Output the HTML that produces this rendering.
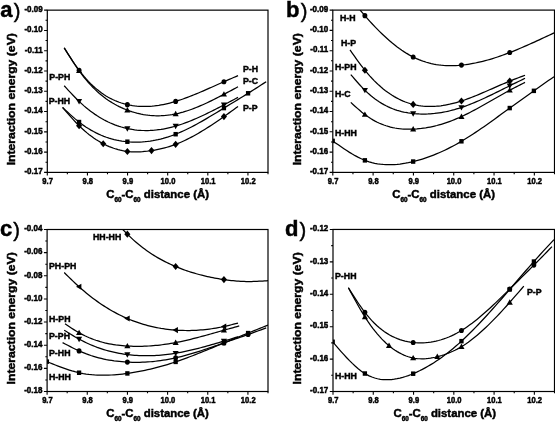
<!DOCTYPE html>
<html><head><meta charset="utf-8"><title>Interaction energy</title>
<style>
html,body{margin:0;padding:0;background:#fff;}
body{width:555px;height:422px;overflow:hidden;}
svg{display:block;font-family:"Liberation Sans",sans-serif;font-weight:bold;fill:#000;}
text{stroke:#000;stroke-width:0.45px;}
</style></head><body>
<svg width="555" height="422" viewBox="0 0 555 422">
<rect width="555" height="422" fill="#fff"/>
<g>
<clipPath id="cla"><rect x="47.30" y="10.15" width="220.70" height="162.25"/></clipPath>
<g clip-path="url(#cla)">
<path d="M64.20 47.89 L66.40 51.35 L68.60 54.79 L70.80 58.19 L73.00 61.52 L75.20 64.75 L77.40 67.88 L79.60 70.86 L81.80 73.70 L84.00 76.39 L86.20 78.93 L88.40 81.34 L90.60 83.60 L92.81 85.73 L95.01 87.73 L97.21 89.61 L99.41 91.36 L101.61 93.00 L103.81 94.52 L106.01 95.93 L108.21 97.23 L110.41 98.43 L112.61 99.53 L114.81 100.53 L117.01 101.45 L119.21 102.27 L121.41 103.01 L123.61 103.67 L125.81 104.26 L128.01 104.77 L130.21 105.21 L132.41 105.58 L134.61 105.89 L136.81 106.13 L139.01 106.30 L141.21 106.42 L143.41 106.48 L145.61 106.47 L147.81 106.41 L150.01 106.30 L152.21 106.13 L154.41 105.91 L156.61 105.63 L158.81 105.31 L161.01 104.94 L163.21 104.53 L165.41 104.07 L167.61 103.56 L169.81 103.02 L172.01 102.43 L174.21 101.81 L176.42 101.15 L178.62 100.46 L180.82 99.73 L183.02 98.97 L185.22 98.19 L187.42 97.37 L189.62 96.53 L191.82 95.67 L194.02 94.79 L196.22 93.89 L198.42 92.97 L200.62 92.04 L202.82 91.09 L205.02 90.13 L207.22 89.16 L209.42 88.19 L211.62 87.21 L213.82 86.23 L216.02 85.25 L218.22 84.26 L220.42 83.28 L222.62 82.31 L224.82 81.34 L227.02 80.38 L229.22 79.43 L231.42 78.48 L233.62 77.53 L235.82 76.59 L238.02 75.65" fill="none" stroke="#000" stroke-width="1.25"/>
<ellipse cx="79.09" cy="70.18" rx="2.45" ry="2.55"/>
<ellipse cx="127.37" cy="104.63" rx="2.45" ry="2.55"/>
<ellipse cx="175.66" cy="101.38" rx="2.45" ry="2.55"/>
<ellipse cx="223.94" cy="81.73" rx="2.45" ry="2.55"/>
<path d="M64.20 47.89 L66.40 51.43 L68.60 54.95 L70.80 58.43 L73.00 61.85 L75.20 65.18 L77.40 68.40 L79.60 71.50 L81.80 74.46 L84.00 77.27 L86.20 79.96 L88.40 82.51 L90.60 84.94 L92.81 87.24 L95.01 89.42 L97.21 91.48 L99.41 93.44 L101.61 95.28 L103.81 97.02 L106.01 98.66 L108.21 100.20 L110.41 101.65 L112.61 103.01 L114.81 104.29 L117.01 105.48 L119.21 106.59 L121.41 107.63 L123.61 108.60 L125.81 109.50 L128.01 110.33 L130.21 111.11 L132.41 111.83 L134.61 112.48 L136.81 113.08 L139.01 113.61 L141.21 114.09 L143.41 114.51 L145.61 114.87 L147.81 115.17 L150.01 115.41 L152.21 115.59 L154.41 115.71 L156.61 115.78 L158.81 115.79 L161.01 115.74 L163.21 115.63 L165.41 115.46 L167.61 115.24 L169.81 114.96 L172.01 114.63 L174.21 114.23 L176.42 113.79 L178.62 113.28 L180.82 112.72 L183.02 112.12 L185.22 111.46 L187.42 110.76 L189.62 110.01 L191.82 109.22 L194.02 108.39 L196.22 107.52 L198.42 106.62 L200.62 105.68 L202.82 104.71 L205.02 103.72 L207.22 102.70 L209.42 101.65 L211.62 100.58 L213.82 99.49 L216.02 98.39 L218.22 97.26 L220.42 96.13 L222.62 94.98 L224.82 93.83 L227.02 92.67 L229.22 91.50 L231.42 90.33 L233.62 89.15 L235.82 87.97 L238.02 86.79" fill="none" stroke="#000" stroke-width="1.25"/>
<polygon points="79.09,67.69 82.14,73.09 76.04,73.09"/>
<polygon points="127.37,107.00 130.42,112.40 124.32,112.40"/>
<polygon points="175.66,110.85 178.71,116.25 172.61,116.25"/>
<polygon points="223.94,91.19 226.99,96.59 220.89,96.59"/>
<path d="M64.20 85.78 L66.40 88.19 L68.60 90.58 L70.80 92.94 L73.00 95.27 L75.20 97.54 L77.40 99.75 L79.60 101.87 L81.80 103.91 L84.00 105.87 L86.20 107.73 L88.40 109.52 L90.60 111.21 L92.81 112.83 L95.01 114.37 L97.21 115.83 L99.41 117.20 L101.61 118.51 L103.81 119.74 L106.01 120.89 L108.21 121.97 L110.41 122.98 L112.61 123.92 L114.81 124.80 L117.01 125.60 L119.21 126.34 L121.41 127.02 L123.61 127.63 L125.81 128.18 L128.01 128.67 L130.21 129.10 L132.41 129.48 L134.61 129.79 L136.81 130.05 L139.01 130.26 L141.21 130.41 L143.41 130.50 L145.61 130.54 L147.81 130.53 L150.01 130.46 L152.21 130.34 L154.41 130.18 L156.61 129.96 L158.81 129.69 L161.01 129.38 L163.21 129.02 L165.41 128.61 L167.61 128.15 L169.81 127.65 L172.01 127.10 L174.21 126.51 L176.42 125.88 L178.62 125.21 L180.82 124.49 L183.02 123.74 L185.22 122.95 L187.42 122.12 L189.62 121.26 L191.82 120.37 L194.02 119.45 L196.22 118.50 L198.42 117.52 L200.62 116.52 L202.82 115.50 L205.02 114.45 L207.22 113.39 L209.42 112.30 L211.62 111.20 L213.82 110.09 L216.02 108.96 L218.22 107.83 L220.42 106.68 L222.62 105.52 L224.82 104.36 L227.02 103.20 L229.22 102.03 L231.42 100.86 L233.62 99.68 L235.82 98.51 L238.02 97.33" fill="none" stroke="#000" stroke-width="1.25"/>
<polygon points="79.09,104.48 82.14,99.08 76.04,99.08"/>
<polygon points="127.37,131.64 130.42,126.24 124.32,126.24"/>
<polygon points="175.66,129.20 178.71,123.80 172.61,123.80"/>
<polygon points="223.94,107.93 226.99,102.53 220.89,102.53"/>
<path d="M62.59 107.46 L65.17 109.87 L67.75 112.25 L70.32 114.60 L72.90 116.89 L75.48 119.11 L78.06 121.23 L80.63 123.24 L83.21 125.13 L85.79 126.91 L88.36 128.57 L90.94 130.12 L93.52 131.56 L96.10 132.89 L98.67 134.13 L101.25 135.26 L103.83 136.30 L106.40 137.24 L108.98 138.08 L111.56 138.84 L114.14 139.52 L116.71 140.10 L119.29 140.61 L121.87 141.04 L124.44 141.39 L127.02 141.67 L129.60 141.88 L132.18 142.02 L134.75 142.09 L137.33 142.09 L139.91 142.02 L142.48 141.89 L145.06 141.68 L147.64 141.41 L150.22 141.07 L152.79 140.67 L155.37 140.20 L157.95 139.66 L160.52 139.06 L163.10 138.39 L165.68 137.65 L168.26 136.86 L170.83 135.99 L173.41 135.07 L175.99 134.08 L178.56 133.03 L181.14 131.92 L183.72 130.75 L186.30 129.53 L188.87 128.27 L191.45 126.96 L194.03 125.60 L196.60 124.21 L199.18 122.79 L201.76 121.34 L204.34 119.85 L206.91 118.35 L209.49 116.82 L212.07 115.28 L214.64 113.73 L217.22 112.16 L219.80 110.60 L222.38 109.02 L224.95 107.45 L227.53 105.89 L230.11 104.32 L232.69 102.75 L235.26 101.18 L237.84 99.61 L240.42 98.03 L242.99 96.44 L245.57 94.85 L248.15 93.24 L250.73 91.62 L253.30 89.99 L255.88 88.35 L258.46 86.70 L261.03 85.04 L263.61 83.39 L266.19 81.73" fill="none" stroke="#000" stroke-width="1.25"/>
<rect x="76.94" y="119.80" width="4.30" height="4.50"/>
<rect x="125.22" y="139.46" width="4.30" height="4.50"/>
<rect x="173.51" y="131.96" width="4.30" height="4.50"/>
<rect x="221.79" y="105.82" width="4.30" height="4.50"/>
<rect x="245.93" y="91.03" width="4.30" height="4.50"/>
<path d="M62.59 107.46 L64.81 110.05 L67.03 112.61 L69.25 115.15 L71.47 117.65 L73.70 120.09 L75.92 122.46 L78.14 124.75 L80.36 126.94 L82.58 129.02 L84.80 131.00 L87.02 132.88 L89.24 134.66 L91.46 136.35 L93.68 137.94 L95.90 139.43 L98.12 140.84 L100.34 142.15 L102.56 143.38 L104.78 144.52 L107.00 145.58 L109.23 146.55 L111.45 147.44 L113.67 148.25 L115.89 148.97 L118.11 149.61 L120.33 150.17 L122.55 150.66 L124.77 151.06 L126.99 151.38 L129.21 151.63 L131.43 151.80 L133.65 151.91 L135.87 151.94 L138.09 151.92 L140.31 151.83 L142.54 151.69 L144.76 151.49 L146.98 151.25 L149.20 150.96 L151.42 150.64 L153.64 150.27 L155.86 149.87 L158.08 149.43 L160.30 148.94 L162.52 148.42 L164.74 147.85 L166.96 147.23 L169.18 146.56 L171.40 145.85 L173.62 145.09 L175.84 144.27 L178.07 143.40 L180.29 142.48 L182.51 141.51 L184.73 140.49 L186.95 139.42 L189.17 138.31 L191.39 137.16 L193.61 135.97 L195.83 134.74 L198.05 133.47 L200.27 132.16 L202.49 130.83 L204.71 129.46 L206.93 128.06 L209.15 126.64 L211.38 125.19 L213.60 123.71 L215.82 122.22 L218.04 120.70 L220.26 119.16 L222.48 117.61 L224.70 116.04 L226.92 114.46 L229.14 112.87 L231.36 111.28 L233.58 109.67 L235.80 108.06 L238.02 106.45" fill="none" stroke="#000" stroke-width="1.25"/>
<polygon points="79.09,122.15 82.14,125.70 79.09,129.25 76.04,125.70"/>
<polygon points="103.23,140.18 106.28,143.73 103.23,147.28 100.18,143.73"/>
<polygon points="127.37,147.88 130.42,151.43 127.37,154.98 124.32,151.43"/>
<polygon points="151.51,147.07 154.56,150.62 151.51,154.17 148.46,150.62"/>
<polygon points="175.66,140.79 178.71,144.34 175.66,147.89 172.61,144.34"/>
<polygon points="223.94,113.03 226.99,116.58 223.94,120.13 220.89,116.58"/>
</g>
<rect x="47.30" y="10.15" width="220.70" height="162.25" fill="none" stroke="#000" stroke-width="1.2"/>
<text transform="translate(47.60 184.00) scale(0.950 1.090)" font-size="8.00" text-anchor="middle">9.7</text>
<text transform="translate(87.73 184.00) scale(0.950 1.090)" font-size="8.00" text-anchor="middle">9.8</text>
<text transform="translate(127.85 184.00) scale(0.950 1.090)" font-size="8.00" text-anchor="middle">9.9</text>
<text transform="translate(167.98 184.00) scale(0.950 1.090)" font-size="8.00" text-anchor="middle">10.0</text>
<text transform="translate(208.11 184.00) scale(0.950 1.090)" font-size="8.00" text-anchor="middle">10.1</text>
<text transform="translate(248.24 184.00) scale(0.950 1.090)" font-size="8.00" text-anchor="middle">10.2</text>
<text transform="translate(42.60 11.95) scale(1.000 1.090)" font-size="8.00" text-anchor="end">-0.09</text>
<text transform="translate(42.60 32.23) scale(1.000 1.090)" font-size="8.00" text-anchor="end">-0.10</text>
<text transform="translate(42.60 52.51) scale(1.000 1.090)" font-size="8.00" text-anchor="end">-0.11</text>
<text transform="translate(42.60 72.79) scale(1.000 1.090)" font-size="8.00" text-anchor="end">-0.12</text>
<text transform="translate(42.60 93.08) scale(1.000 1.090)" font-size="8.00" text-anchor="end">-0.13</text>
<text transform="translate(42.60 113.36) scale(1.000 1.090)" font-size="8.00" text-anchor="end">-0.14</text>
<text transform="translate(42.60 133.64) scale(1.000 1.090)" font-size="8.00" text-anchor="end">-0.15</text>
<text transform="translate(42.60 153.92) scale(1.000 1.090)" font-size="8.00" text-anchor="end">-0.16</text>
<text transform="translate(42.60 174.20) scale(1.000 1.090)" font-size="8.00" text-anchor="end">-0.17</text>
<path d="M47.30 172.40 v3.20 M67.36 172.40 v1.80 M87.43 172.40 v3.20 M107.49 172.40 v1.80 M127.55 172.40 v3.20 M147.62 172.40 v1.80 M167.68 172.40 v3.20 M187.75 172.40 v1.80 M207.81 172.40 v3.20 M227.87 172.40 v1.80 M247.94 172.40 v3.20 M268.00 172.40 v1.80 M47.30 10.15 h-3.20 M47.30 20.29 h-1.80 M47.30 30.43 h-3.20 M47.30 40.57 h-1.80 M47.30 50.71 h-3.20 M47.30 60.85 h-1.80 M47.30 70.99 h-3.20 M47.30 81.13 h-1.80 M47.30 91.28 h-3.20 M47.30 101.42 h-1.80 M47.30 111.56 h-3.20 M47.30 121.70 h-1.80 M47.30 131.84 h-3.20 M47.30 141.98 h-1.80 M47.30 152.12 h-3.20 M47.30 162.26 h-1.80 M47.30 172.40 h-3.20" stroke="#000" stroke-width="1.1" fill="none"/>
<text transform="translate(157.65 198.00)" font-size="11.40" text-anchor="middle">C<tspan font-size="6.3" dy="3.5">60</tspan><tspan dy="-3.5">-C</tspan><tspan font-size="6.3" dy="3.5">60</tspan><tspan dy="-3.5"> distance (Å)</tspan></text>
<text transform="translate(14.90 99.25) rotate(-90) scale(1.090 1.000)" font-size="11.20" text-anchor="middle">Interaction energy (eV)</text>
<text transform="translate(0.30 17.20)" font-size="22.00">a<tspan font-weight="normal" font-size="20" dx="1.1" dy="0.4">)</tspan></text>
<text transform="translate(49.30 79.50) scale(1.000 0.930)" font-size="8.80">P-PH</text>
<text transform="translate(48.70 103.70) scale(1.000 0.930)" font-size="8.80">P-HH</text>
<text transform="translate(243.00 72.00) scale(1.000 0.930)" font-size="8.80">P-H</text>
<text transform="translate(243.00 84.00) scale(1.000 0.930)" font-size="8.80">P-C</text>
<text transform="translate(243.00 110.80) scale(1.000 0.930)" font-size="8.80">P-P</text>
</g>
<g>
<clipPath id="clb"><rect x="332.80" y="10.10" width="221.70" height="162.30"/></clipPath>
<g clip-path="url(#clb)">
<path d="M360.06 10.00 L362.52 12.90 L364.97 15.77 L367.43 18.58 L369.88 21.32 L372.34 24.00 L374.79 26.61 L377.25 29.15 L379.70 31.62 L382.16 34.01 L384.61 36.32 L387.06 38.56 L389.52 40.72 L391.97 42.80 L394.43 44.79 L396.88 46.69 L399.34 48.51 L401.79 50.24 L404.25 51.87 L406.70 53.41 L409.16 54.86 L411.61 56.20 L414.07 57.45 L416.52 58.60 L418.98 59.65 L421.43 60.61 L423.89 61.47 L426.34 62.25 L428.80 62.94 L431.25 63.54 L433.71 64.06 L436.16 64.51 L438.62 64.87 L441.07 65.17 L443.53 65.39 L445.98 65.55 L448.44 65.63 L450.89 65.66 L453.35 65.63 L455.80 65.53 L458.26 65.39 L460.71 65.18 L463.17 64.93 L465.62 64.64 L468.08 64.29 L470.53 63.90 L472.99 63.46 L475.44 62.99 L477.90 62.47 L480.35 61.91 L482.81 61.31 L485.26 60.67 L487.72 60.00 L490.17 59.29 L492.63 58.55 L495.08 57.77 L497.54 56.97 L499.99 56.13 L502.45 55.27 L504.90 54.38 L507.36 53.46 L509.81 52.52 L512.27 51.56 L514.72 50.58 L517.18 49.57 L519.63 48.54 L522.09 47.50 L524.54 46.44 L527.00 45.37 L529.45 44.28 L531.91 43.18 L534.36 42.06 L536.82 40.94 L539.27 39.81 L541.73 38.67 L544.18 37.52 L546.64 36.37 L549.09 35.21 L551.55 34.06 L554.00 32.90" fill="none" stroke="#000" stroke-width="1.25"/>
<ellipse cx="364.89" cy="15.67" rx="2.45" ry="2.55"/>
<ellipse cx="413.17" cy="57.01" rx="2.45" ry="2.55"/>
<ellipse cx="461.46" cy="65.11" rx="2.45" ry="2.55"/>
<ellipse cx="509.74" cy="52.55" rx="2.45" ry="2.55"/>
<path d="M350.00 49.92 L352.22 53.07 L354.43 56.20 L356.65 59.29 L358.86 62.33 L361.08 65.30 L363.29 68.18 L365.51 70.94 L367.73 73.59 L369.94 76.12 L372.16 78.54 L374.37 80.83 L376.59 83.02 L378.80 85.09 L381.02 87.05 L383.23 88.91 L385.45 90.66 L387.67 92.30 L389.88 93.85 L392.10 95.29 L394.31 96.64 L396.53 97.89 L398.74 99.05 L400.96 100.11 L403.17 101.09 L405.39 101.98 L407.61 102.78 L409.82 103.49 L412.04 104.13 L414.25 104.68 L416.47 105.16 L418.68 105.56 L420.90 105.88 L423.11 106.14 L425.33 106.32 L427.55 106.43 L429.76 106.48 L431.98 106.46 L434.19 106.38 L436.41 106.23 L438.62 106.03 L440.84 105.77 L443.05 105.46 L445.27 105.09 L447.49 104.67 L449.70 104.21 L451.92 103.69 L454.13 103.13 L456.35 102.53 L458.56 101.88 L460.78 101.20 L462.99 100.47 L465.21 99.72 L467.43 98.92 L469.64 98.10 L471.86 97.26 L474.07 96.38 L476.29 95.49 L478.50 94.57 L480.72 93.64 L482.93 92.70 L485.15 91.74 L487.37 90.78 L489.58 89.80 L491.80 88.83 L494.01 87.85 L496.23 86.88 L498.44 85.91 L500.66 84.94 L502.87 83.99 L505.09 83.05 L507.31 82.12 L509.52 81.21 L511.74 80.32 L513.95 79.45 L516.17 78.59 L518.38 77.74 L520.60 76.91 L522.81 76.07 L525.03 75.25" fill="none" stroke="#000" stroke-width="1.25"/>
<polygon points="364.89,66.63 367.94,70.18 364.89,73.73 361.84,70.18"/>
<polygon points="413.17,100.87 416.22,104.42 413.17,107.97 410.12,104.42"/>
<polygon points="461.46,97.43 464.51,100.98 461.46,104.53 458.41,100.98"/>
<polygon points="509.74,77.57 512.79,81.12 509.74,84.67 506.69,81.12"/>
<path d="M350.81 74.64 L353.01 77.21 L355.22 79.77 L357.42 82.28 L359.63 84.74 L361.83 87.11 L364.04 89.39 L366.24 91.55 L368.45 93.59 L370.65 95.50 L372.86 97.30 L375.07 98.98 L377.27 100.55 L379.48 102.02 L381.68 103.38 L383.89 104.64 L386.09 105.80 L388.30 106.87 L390.50 107.85 L392.71 108.75 L394.91 109.56 L397.12 110.29 L399.32 110.95 L401.53 111.53 L403.74 112.04 L405.94 112.49 L408.15 112.88 L410.35 113.20 L412.56 113.47 L414.76 113.69 L416.97 113.86 L419.17 113.98 L421.38 114.05 L423.58 114.07 L425.79 114.04 L427.99 113.97 L430.20 113.85 L432.40 113.68 L434.61 113.47 L436.82 113.21 L439.02 112.91 L441.23 112.56 L443.43 112.17 L445.64 111.74 L447.84 111.27 L450.05 110.75 L452.25 110.20 L454.46 109.61 L456.66 108.97 L458.87 108.30 L461.07 107.59 L463.28 106.84 L465.49 106.06 L467.69 105.24 L469.90 104.39 L472.10 103.51 L474.31 102.61 L476.51 101.68 L478.72 100.72 L480.92 99.74 L483.13 98.74 L485.33 97.72 L487.54 96.69 L489.74 95.64 L491.95 94.58 L494.15 93.50 L496.36 92.42 L498.57 91.33 L500.77 90.24 L502.98 89.14 L505.18 88.05 L507.39 86.95 L509.59 85.85 L511.80 84.76 L514.00 83.68 L516.21 82.60 L518.41 81.52 L520.62 80.44 L522.82 79.36 L525.03 78.28" fill="none" stroke="#000" stroke-width="1.25"/>
<polygon points="364.89,93.34 367.94,87.94 361.84,87.94"/>
<polygon points="413.17,116.64 416.22,111.24 410.12,111.24"/>
<polygon points="461.46,110.56 464.51,105.16 458.41,105.16"/>
<polygon points="509.74,88.88 512.79,83.48 506.69,83.48"/>
<path d="M350.81 102.40 L353.01 104.42 L355.22 106.42 L357.42 108.39 L359.63 110.30 L361.83 112.15 L364.04 113.90 L366.24 115.56 L368.45 117.10 L370.65 118.53 L372.86 119.85 L375.07 121.08 L377.27 122.20 L379.48 123.23 L381.68 124.17 L383.89 125.02 L386.09 125.78 L388.30 126.45 L390.50 127.05 L392.71 127.56 L394.91 128.00 L397.12 128.37 L399.32 128.67 L401.53 128.90 L403.74 129.07 L405.94 129.18 L408.15 129.23 L410.35 129.22 L412.56 129.17 L414.76 129.06 L416.97 128.91 L419.17 128.71 L421.38 128.47 L423.58 128.18 L425.79 127.85 L427.99 127.47 L430.20 127.04 L432.40 126.57 L434.61 126.06 L436.82 125.51 L439.02 124.91 L441.23 124.28 L443.43 123.60 L445.64 122.88 L447.84 122.12 L450.05 121.32 L452.25 120.48 L454.46 119.61 L456.66 118.69 L458.87 117.74 L461.07 116.76 L463.28 115.73 L465.49 114.67 L467.69 113.58 L469.90 112.46 L472.10 111.32 L474.31 110.15 L476.51 108.96 L478.72 107.75 L480.92 106.53 L483.13 105.29 L485.33 104.04 L487.54 102.78 L489.74 101.52 L491.95 100.25 L494.15 98.98 L496.36 97.72 L498.57 96.46 L500.77 95.21 L502.98 93.96 L505.18 92.73 L507.39 91.52 L509.59 90.32 L511.80 89.14 L514.00 87.98 L516.21 86.83 L518.41 85.70 L520.62 84.57 L522.82 83.45 L525.03 82.34" fill="none" stroke="#000" stroke-width="1.25"/>
<polygon points="364.89,111.45 367.94,116.85 361.84,116.85"/>
<polygon points="413.17,126.04 416.22,131.44 410.12,131.44"/>
<polygon points="461.46,113.48 464.51,118.88 458.41,118.88"/>
<polygon points="509.74,87.14 512.79,92.54 506.69,92.54"/>
<path d="M332.70 140.90 L335.50 142.89 L338.30 144.86 L341.10 146.81 L343.91 148.72 L346.71 150.57 L349.51 152.36 L352.31 154.06 L355.11 155.67 L357.91 157.17 L360.71 158.55 L363.51 159.79 L366.32 160.89 L369.12 161.83 L371.92 162.62 L374.72 163.28 L377.52 163.80 L380.32 164.20 L383.12 164.48 L385.92 164.64 L388.73 164.70 L391.53 164.66 L394.33 164.53 L397.13 164.31 L399.93 164.01 L402.73 163.62 L405.53 163.17 L408.33 162.64 L411.14 162.04 L413.94 161.38 L416.74 160.65 L419.54 159.87 L422.34 159.03 L425.14 158.13 L427.94 157.17 L430.74 156.15 L433.55 155.07 L436.35 153.94 L439.15 152.75 L441.95 151.50 L444.75 150.20 L447.55 148.84 L450.35 147.43 L453.15 145.96 L455.96 144.44 L458.76 142.87 L461.56 141.24 L464.36 139.56 L467.16 137.83 L469.96 136.06 L472.76 134.24 L475.56 132.39 L478.37 130.50 L481.17 128.58 L483.97 126.64 L486.77 124.67 L489.57 122.68 L492.37 120.67 L495.17 118.65 L497.97 116.62 L500.78 114.58 L503.58 112.55 L506.38 110.51 L509.18 108.48 L511.98 106.45 L514.78 104.44 L517.58 102.43 L520.38 100.42 L523.19 98.43 L525.99 96.44 L528.79 94.45 L531.59 92.47 L534.39 90.49 L537.19 88.51 L539.99 86.53 L542.79 84.56 L545.60 82.58 L548.40 80.61 L551.20 78.64 L554.00 76.66" fill="none" stroke="#000" stroke-width="1.25"/>
<rect x="330.55" y="138.65" width="4.30" height="4.50"/>
<rect x="362.74" y="158.10" width="4.30" height="4.50"/>
<rect x="411.02" y="159.31" width="4.30" height="4.50"/>
<rect x="459.31" y="139.05" width="4.30" height="4.50"/>
<rect x="507.59" y="105.82" width="4.30" height="4.50"/>
<rect x="531.73" y="88.60" width="4.30" height="4.50"/>
</g>
<rect x="332.80" y="10.10" width="221.70" height="162.30" fill="none" stroke="#000" stroke-width="1.2"/>
<text transform="translate(333.10 184.00) scale(0.950 1.090)" font-size="8.00" text-anchor="middle">9.7</text>
<text transform="translate(373.41 184.00) scale(0.950 1.090)" font-size="8.00" text-anchor="middle">9.8</text>
<text transform="translate(413.72 184.00) scale(0.950 1.090)" font-size="8.00" text-anchor="middle">9.9</text>
<text transform="translate(454.03 184.00) scale(0.950 1.090)" font-size="8.00" text-anchor="middle">10.0</text>
<text transform="translate(494.34 184.00) scale(0.950 1.090)" font-size="8.00" text-anchor="middle">10.1</text>
<text transform="translate(534.65 184.00) scale(0.950 1.090)" font-size="8.00" text-anchor="middle">10.2</text>
<text transform="translate(328.10 11.90) scale(1.000 1.090)" font-size="8.00" text-anchor="end">-0.09</text>
<text transform="translate(328.10 32.19) scale(1.000 1.090)" font-size="8.00" text-anchor="end">-0.10</text>
<text transform="translate(328.10 52.48) scale(1.000 1.090)" font-size="8.00" text-anchor="end">-0.11</text>
<text transform="translate(328.10 72.76) scale(1.000 1.090)" font-size="8.00" text-anchor="end">-0.12</text>
<text transform="translate(328.10 93.05) scale(1.000 1.090)" font-size="8.00" text-anchor="end">-0.13</text>
<text transform="translate(328.10 113.34) scale(1.000 1.090)" font-size="8.00" text-anchor="end">-0.14</text>
<text transform="translate(328.10 133.62) scale(1.000 1.090)" font-size="8.00" text-anchor="end">-0.15</text>
<text transform="translate(328.10 153.91) scale(1.000 1.090)" font-size="8.00" text-anchor="end">-0.16</text>
<text transform="translate(328.10 174.20) scale(1.000 1.090)" font-size="8.00" text-anchor="end">-0.17</text>
<path d="M332.80 172.40 v3.20 M352.95 172.40 v1.80 M373.11 172.40 v3.20 M393.26 172.40 v1.80 M413.42 172.40 v3.20 M433.57 172.40 v1.80 M453.73 172.40 v3.20 M473.88 172.40 v1.80 M494.04 172.40 v3.20 M514.19 172.40 v1.80 M534.35 172.40 v3.20 M554.50 172.40 v1.80 M332.80 10.10 h-3.20 M332.80 20.24 h-1.80 M332.80 30.39 h-3.20 M332.80 40.53 h-1.80 M332.80 50.68 h-3.20 M332.80 60.82 h-1.80 M332.80 70.96 h-3.20 M332.80 81.11 h-1.80 M332.80 91.25 h-3.20 M332.80 101.39 h-1.80 M332.80 111.54 h-3.20 M332.80 121.68 h-1.80 M332.80 131.82 h-3.20 M332.80 141.97 h-1.80 M332.80 152.11 h-3.20 M332.80 162.26 h-1.80 M332.80 172.40 h-3.20" stroke="#000" stroke-width="1.1" fill="none"/>
<text transform="translate(443.65 198.00)" font-size="11.40" text-anchor="middle">C<tspan font-size="6.3" dy="3.5">60</tspan><tspan dy="-3.5">-C</tspan><tspan font-size="6.3" dy="3.5">60</tspan><tspan dy="-3.5"> distance (Å)</tspan></text>
<text transform="translate(300.70 99.25) rotate(-90) scale(1.090 1.000)" font-size="11.20" text-anchor="middle">Interaction energy (eV)</text>
<text transform="translate(286.10 17.20)" font-size="22.00">b<tspan font-weight="normal" font-size="20" dx="1.1" dy="0.4">)</tspan></text>
<text transform="translate(340.00 20.70) scale(1.000 0.930)" font-size="8.80">H-H</text>
<text transform="translate(341.00 46.00) scale(1.000 0.930)" font-size="8.80">H-P</text>
<text transform="translate(335.00 70.00) scale(1.000 0.930)" font-size="8.80">H-PH</text>
<text transform="translate(335.00 97.00) scale(1.000 0.930)" font-size="8.80">H-C</text>
<text transform="translate(335.00 136.00) scale(1.000 0.930)" font-size="8.80">H-HH</text>
</g>
<g>
<clipPath id="clc"><rect x="47.10" y="229.50" width="220.90" height="162.00"/></clipPath>
<g clip-path="url(#clc)">
<path d="M122.54 229.20 L124.39 231.12 L126.23 233.02 L128.08 234.87 L129.92 236.67 L131.76 238.41 L133.61 240.09 L135.45 241.72 L137.29 243.30 L139.14 244.83 L140.98 246.31 L142.83 247.74 L144.67 249.12 L146.51 250.46 L148.36 251.75 L150.20 253.00 L152.04 254.21 L153.89 255.38 L155.73 256.51 L157.58 257.60 L159.42 258.65 L161.26 259.67 L163.11 260.65 L164.95 261.60 L166.79 262.52 L168.64 263.40 L170.48 264.26 L172.33 265.09 L174.17 265.90 L176.01 266.68 L177.86 267.43 L179.70 268.17 L181.54 268.87 L183.39 269.56 L185.23 270.22 L187.08 270.86 L188.92 271.48 L190.76 272.08 L192.61 272.66 L194.45 273.21 L196.29 273.75 L198.14 274.26 L199.98 274.76 L201.83 275.23 L203.67 275.69 L205.51 276.13 L207.36 276.55 L209.20 276.96 L211.04 277.34 L212.89 277.71 L214.73 278.06 L216.58 278.40 L218.42 278.72 L220.26 279.03 L222.11 279.32 L223.95 279.59 L225.79 279.85 L227.64 280.10 L229.48 280.33 L231.33 280.54 L233.17 280.73 L235.01 280.91 L236.86 281.07 L238.70 281.20 L240.54 281.32 L242.39 281.41 L244.23 281.48 L246.08 281.53 L247.92 281.55 L249.76 281.55 L251.61 281.52 L253.45 281.48 L255.29 281.41 L257.14 281.33 L258.98 281.24 L260.83 281.13 L262.67 281.01 L264.51 280.89 L266.36 280.76 L268.20 280.63" fill="none" stroke="#000" stroke-width="1.25"/>
<polygon points="127.37,230.62 130.42,234.17 127.37,237.72 124.32,234.17"/>
<polygon points="175.66,262.98 178.71,266.53 175.66,270.08 172.61,266.53"/>
<polygon points="223.94,276.04 226.99,279.59 223.94,283.14 220.89,279.59"/>
<path d="M64.20 272.54 L66.40 274.70 L68.60 276.85 L70.80 278.98 L73.00 281.10 L75.20 283.18 L77.40 285.22 L79.60 287.22 L81.80 289.16 L84.00 291.06 L86.20 292.90 L88.40 294.69 L90.60 296.44 L92.81 298.13 L95.01 299.78 L97.21 301.37 L99.41 302.92 L101.61 304.42 L103.81 305.87 L106.01 307.27 L108.21 308.63 L110.41 309.94 L112.61 311.20 L114.81 312.42 L117.01 313.60 L119.21 314.73 L121.41 315.81 L123.61 316.86 L125.81 317.85 L128.01 318.81 L130.21 319.72 L132.41 320.59 L134.61 321.42 L136.81 322.21 L139.01 322.96 L141.21 323.67 L143.41 324.34 L145.61 324.97 L147.81 325.57 L150.01 326.12 L152.21 326.64 L154.41 327.13 L156.61 327.58 L158.81 327.99 L161.01 328.38 L163.21 328.72 L165.41 329.04 L167.61 329.32 L169.81 329.57 L172.01 329.79 L174.21 329.99 L176.42 330.15 L178.62 330.28 L180.82 330.38 L183.02 330.45 L185.22 330.50 L187.42 330.51 L189.62 330.50 L191.82 330.45 L194.02 330.38 L196.22 330.28 L198.42 330.15 L200.62 329.99 L202.82 329.80 L205.02 329.58 L207.22 329.33 L209.42 329.06 L211.62 328.75 L213.82 328.42 L216.02 328.05 L218.22 327.66 L220.42 327.24 L222.62 326.79 L224.82 326.32 L227.02 325.81 L229.22 325.29 L231.42 324.74 L233.62 324.18 L235.82 323.62 L238.02 323.04" fill="none" stroke="#000" stroke-width="1.25"/>
<polygon points="75.99,286.75 81.39,283.70 81.39,289.80"/>
<polygon points="124.27,318.54 129.67,315.49 129.67,321.59"/>
<polygon points="172.56,330.09 177.96,327.04 177.96,333.14"/>
<polygon points="220.84,326.51 226.24,323.46 226.24,329.56"/>
<path d="M65.01 323.85 L67.21 325.32 L69.42 326.78 L71.62 328.21 L73.83 329.61 L76.03 330.97 L78.24 332.27 L80.44 333.50 L82.65 334.66 L84.85 335.75 L87.06 336.78 L89.27 337.74 L91.47 338.63 L93.68 339.47 L95.88 340.25 L98.09 340.96 L100.29 341.63 L102.50 342.24 L104.70 342.80 L106.91 343.31 L109.11 343.77 L111.32 344.19 L113.52 344.56 L115.73 344.90 L117.94 345.19 L120.14 345.44 L122.35 345.66 L124.55 345.85 L126.76 346.00 L128.96 346.13 L131.17 346.23 L133.37 346.29 L135.58 346.33 L137.78 346.35 L139.99 346.33 L142.19 346.29 L144.40 346.22 L146.60 346.12 L148.81 346.00 L151.02 345.85 L153.22 345.68 L155.43 345.48 L157.63 345.26 L159.84 345.02 L162.04 344.75 L164.25 344.45 L166.45 344.14 L168.66 343.80 L170.86 343.44 L173.07 343.05 L175.27 342.65 L177.48 342.22 L179.69 341.77 L181.89 341.31 L184.10 340.82 L186.30 340.32 L188.51 339.81 L190.71 339.27 L192.92 338.73 L195.12 338.17 L197.33 337.60 L199.53 337.02 L201.74 336.43 L203.94 335.83 L206.15 335.23 L208.35 334.61 L210.56 334.00 L212.77 333.38 L214.97 332.75 L217.18 332.13 L219.38 331.50 L221.59 330.88 L223.79 330.25 L226.00 329.63 L228.20 329.01 L230.41 328.39 L232.61 327.78 L234.82 327.16 L237.02 326.55 L239.23 325.93" fill="none" stroke="#000" stroke-width="1.25"/>
<polygon points="79.09,329.65 82.14,335.05 76.04,335.05"/>
<polygon points="127.37,342.94 130.42,348.34 124.32,348.34"/>
<polygon points="175.66,339.48 178.71,344.88 172.61,344.88"/>
<polygon points="223.94,327.11 226.99,332.51 220.89,332.51"/>
<path d="M64.20 330.21 L66.40 331.58 L68.60 332.94 L70.80 334.29 L73.00 335.62 L75.20 336.92 L77.40 338.17 L79.60 339.39 L81.80 340.55 L84.00 341.67 L86.20 342.73 L88.40 343.75 L90.60 344.72 L92.81 345.64 L95.01 346.51 L97.21 347.35 L99.41 348.13 L101.61 348.88 L103.81 349.58 L106.01 350.23 L108.21 350.85 L110.41 351.43 L112.61 351.96 L114.81 352.46 L117.01 352.92 L119.21 353.34 L121.41 353.73 L123.61 354.08 L125.81 354.39 L128.01 354.67 L130.21 354.92 L132.41 355.13 L134.61 355.31 L136.81 355.46 L139.01 355.58 L141.21 355.66 L143.41 355.71 L145.61 355.74 L147.81 355.73 L150.01 355.69 L152.21 355.63 L154.41 355.53 L156.61 355.41 L158.81 355.26 L161.01 355.08 L163.21 354.87 L165.41 354.64 L167.61 354.38 L169.81 354.09 L172.01 353.78 L174.21 353.44 L176.42 353.08 L178.62 352.70 L180.82 352.29 L183.02 351.86 L185.22 351.41 L187.42 350.94 L189.62 350.45 L191.82 349.94 L194.02 349.41 L196.22 348.87 L198.42 348.31 L200.62 347.74 L202.82 347.16 L205.02 346.56 L207.22 345.95 L209.42 345.34 L211.62 344.71 L213.82 344.07 L216.02 343.43 L218.22 342.78 L220.42 342.13 L222.62 341.47 L224.82 340.81 L227.02 340.14 L229.22 339.48 L231.42 338.81 L233.62 338.14 L235.82 337.47 L238.02 336.80" fill="none" stroke="#000" stroke-width="1.25"/>
<polygon points="79.09,342.21 82.14,336.81 76.04,336.81"/>
<polygon points="127.37,357.70 130.42,352.30 124.32,352.30"/>
<polygon points="175.66,356.31 178.71,350.91 172.61,350.91"/>
<polygon points="223.94,344.17 226.99,338.77 220.89,338.77"/>
<path d="M62.59 342.58 L65.17 343.95 L67.75 345.31 L70.32 346.65 L72.90 347.95 L75.48 349.22 L78.06 350.43 L80.63 351.57 L83.21 352.65 L85.79 353.67 L88.36 354.61 L90.94 355.50 L93.52 356.32 L96.10 357.08 L98.67 357.78 L101.25 358.43 L103.83 359.02 L106.40 359.56 L108.98 360.04 L111.56 360.47 L114.14 360.86 L116.71 361.19 L119.29 361.48 L121.87 361.73 L124.44 361.93 L127.02 362.09 L129.60 362.21 L132.18 362.29 L134.75 362.33 L137.33 362.33 L139.91 362.29 L142.48 362.21 L145.06 362.09 L147.64 361.94 L150.22 361.75 L152.79 361.52 L155.37 361.25 L157.95 360.94 L160.52 360.60 L163.10 360.21 L165.68 359.80 L168.26 359.34 L170.83 358.85 L173.41 358.32 L175.99 357.76 L178.56 357.16 L181.14 356.52 L183.72 355.86 L186.30 355.16 L188.87 354.44 L191.45 353.69 L194.03 352.92 L196.60 352.13 L199.18 351.32 L201.76 350.49 L204.34 349.64 L206.91 348.78 L209.49 347.91 L212.07 347.04 L214.64 346.15 L217.22 345.26 L219.80 344.36 L222.38 343.47 L224.95 342.57 L227.53 341.68 L230.11 340.78 L232.69 339.89 L235.26 338.99 L237.84 338.10 L240.42 337.20 L242.99 336.29 L245.57 335.38 L248.15 334.46 L250.73 333.54 L253.30 332.61 L255.88 331.67 L258.46 330.73 L261.03 329.79 L263.61 328.84 L266.19 327.90" fill="none" stroke="#000" stroke-width="1.25"/>
<ellipse cx="79.09" cy="350.90" rx="2.45" ry="2.55"/>
<ellipse cx="127.37" cy="362.11" rx="2.45" ry="2.55"/>
<ellipse cx="175.66" cy="357.83" rx="2.45" ry="2.55"/>
<ellipse cx="223.94" cy="342.92" rx="2.45" ry="2.55"/>
<ellipse cx="248.08" cy="334.49" rx="2.45" ry="2.55"/>
<path d="M46.90 361.64 L49.70 362.78 L52.50 363.91 L55.30 365.02 L58.11 366.11 L60.91 367.16 L63.71 368.18 L66.51 369.15 L69.31 370.07 L72.11 370.93 L74.91 371.71 L77.71 372.42 L80.52 373.05 L83.32 373.58 L86.12 374.04 L88.92 374.41 L91.72 374.71 L94.52 374.94 L97.32 375.10 L100.12 375.19 L102.93 375.22 L105.73 375.20 L108.53 375.13 L111.33 375.00 L114.13 374.83 L116.93 374.61 L119.73 374.35 L122.53 374.04 L125.34 373.70 L128.14 373.33 L130.94 372.91 L133.74 372.47 L136.54 371.99 L139.34 371.47 L142.14 370.93 L144.94 370.35 L147.75 369.73 L150.55 369.09 L153.35 368.41 L156.15 367.70 L158.95 366.95 L161.75 366.18 L164.55 365.37 L167.35 364.54 L170.16 363.67 L172.96 362.77 L175.76 361.84 L178.56 360.88 L181.36 359.90 L184.16 358.89 L186.96 357.85 L189.76 356.79 L192.57 355.72 L195.37 354.62 L198.17 353.51 L200.97 352.39 L203.77 351.25 L206.57 350.11 L209.37 348.96 L212.17 347.80 L214.98 346.64 L217.78 345.47 L220.58 344.31 L223.38 343.15 L226.18 342.00 L228.98 340.85 L231.78 339.70 L234.58 338.56 L237.39 337.42 L240.19 336.29 L242.99 335.15 L245.79 334.02 L248.59 332.89 L251.39 331.76 L254.19 330.64 L256.99 329.51 L259.80 328.38 L262.60 327.26 L265.40 326.13 L268.20 325.01" fill="none" stroke="#000" stroke-width="1.25"/>
<rect x="44.75" y="359.39" width="4.30" height="4.50"/>
<rect x="76.94" y="370.49" width="4.30" height="4.50"/>
<rect x="125.22" y="371.18" width="4.30" height="4.50"/>
<rect x="173.51" y="359.63" width="4.30" height="4.50"/>
<rect x="221.79" y="340.67" width="4.30" height="4.50"/>
<rect x="245.93" y="330.85" width="4.30" height="4.50"/>
</g>
<rect x="47.10" y="229.50" width="220.90" height="162.00" fill="none" stroke="#000" stroke-width="1.2"/>
<text transform="translate(47.40 403.10) scale(0.950 1.090)" font-size="8.00" text-anchor="middle">9.7</text>
<text transform="translate(87.56 403.10) scale(0.950 1.090)" font-size="8.00" text-anchor="middle">9.8</text>
<text transform="translate(127.73 403.10) scale(0.950 1.090)" font-size="8.00" text-anchor="middle">9.9</text>
<text transform="translate(167.89 403.10) scale(0.950 1.090)" font-size="8.00" text-anchor="middle">10.0</text>
<text transform="translate(208.05 403.10) scale(0.950 1.090)" font-size="8.00" text-anchor="middle">10.1</text>
<text transform="translate(248.22 403.10) scale(0.950 1.090)" font-size="8.00" text-anchor="middle">10.2</text>
<text transform="translate(42.40 231.30) scale(1.000 1.090)" font-size="8.00" text-anchor="end">-0.04</text>
<text transform="translate(42.40 254.44) scale(1.000 1.090)" font-size="8.00" text-anchor="end">-0.06</text>
<text transform="translate(42.40 277.59) scale(1.000 1.090)" font-size="8.00" text-anchor="end">-0.08</text>
<text transform="translate(42.40 300.73) scale(1.000 1.090)" font-size="8.00" text-anchor="end">-0.10</text>
<text transform="translate(42.40 323.87) scale(1.000 1.090)" font-size="8.00" text-anchor="end">-0.12</text>
<text transform="translate(42.40 347.01) scale(1.000 1.090)" font-size="8.00" text-anchor="end">-0.14</text>
<text transform="translate(42.40 370.16) scale(1.000 1.090)" font-size="8.00" text-anchor="end">-0.16</text>
<text transform="translate(42.40 393.30) scale(1.000 1.090)" font-size="8.00" text-anchor="end">-0.18</text>
<path d="M47.10 391.50 v3.20 M67.18 391.50 v1.80 M87.26 391.50 v3.20 M107.35 391.50 v1.80 M127.43 391.50 v3.20 M147.51 391.50 v1.80 M167.59 391.50 v3.20 M187.67 391.50 v1.80 M207.75 391.50 v3.20 M227.84 391.50 v1.80 M247.92 391.50 v3.20 M268.00 391.50 v1.80 M47.10 229.50 h-3.20 M47.10 241.07 h-1.80 M47.10 252.64 h-3.20 M47.10 264.21 h-1.80 M47.10 275.79 h-3.20 M47.10 287.36 h-1.80 M47.10 298.93 h-3.20 M47.10 310.50 h-1.80 M47.10 322.07 h-3.20 M47.10 333.64 h-1.80 M47.10 345.21 h-3.20 M47.10 356.79 h-1.80 M47.10 368.36 h-3.20 M47.10 379.93 h-1.80 M47.10 391.50 h-3.20" stroke="#000" stroke-width="1.1" fill="none"/>
<text transform="translate(157.55 417.10)" font-size="11.40" text-anchor="middle">C<tspan font-size="6.3" dy="3.5">60</tspan><tspan dy="-3.5">-C</tspan><tspan font-size="6.3" dy="3.5">60</tspan><tspan dy="-3.5"> distance (Å)</tspan></text>
<text transform="translate(14.90 318.30) rotate(-90) scale(1.090 1.000)" font-size="11.20" text-anchor="middle">Interaction energy (eV)</text>
<text transform="translate(-0.10 236.40)" font-size="22.00">c<tspan font-weight="normal" font-size="20" dx="1.1" dy="0.4">)</tspan></text>
<text transform="translate(93.00 240.00) scale(1.000 0.930)" font-size="8.80">HH-HH</text>
<text transform="translate(49.00 268.50) scale(1.000 0.930)" font-size="8.80">PH-PH</text>
<text transform="translate(49.00 321.50) scale(1.000 0.930)" font-size="8.80">H-PH</text>
<text transform="translate(49.00 339.00) scale(1.000 0.930)" font-size="8.80">P-PH</text>
<text transform="translate(49.00 356.00) scale(1.000 0.930)" font-size="8.80">P-HH</text>
<text transform="translate(49.00 380.30) scale(1.000 0.930)" font-size="8.80">H-HH</text>
</g>
<g>
<clipPath id="cld"><rect x="333.00" y="229.45" width="221.50" height="162.05"/></clipPath>
<g clip-path="url(#cld)">
<path d="M348.39 287.77 L350.97 291.85 L353.55 295.90 L356.12 299.87 L358.70 303.74 L361.28 307.46 L363.86 311.00 L366.43 314.33 L369.01 317.43 L371.59 320.31 L374.16 322.98 L376.74 325.45 L379.32 327.71 L381.90 329.79 L384.47 331.68 L387.05 333.39 L389.63 334.94 L392.20 336.32 L394.78 337.55 L397.36 338.64 L399.94 339.58 L402.51 340.38 L405.09 341.06 L407.67 341.63 L410.24 342.08 L412.82 342.42 L415.40 342.67 L417.98 342.82 L420.55 342.87 L423.13 342.82 L425.71 342.68 L428.28 342.44 L430.86 342.10 L433.44 341.66 L436.02 341.13 L438.59 340.49 L441.17 339.76 L443.75 338.92 L446.32 337.99 L448.90 336.96 L451.48 335.82 L454.06 334.59 L456.63 333.26 L459.21 331.82 L461.79 330.28 L464.36 328.65 L466.94 326.91 L469.52 325.09 L472.10 323.19 L474.67 321.20 L477.25 319.14 L479.83 317.01 L482.40 314.82 L484.98 312.57 L487.56 310.27 L490.14 307.92 L492.71 305.53 L495.29 303.10 L497.87 300.64 L500.44 298.16 L503.02 295.65 L505.60 293.13 L508.18 290.60 L510.75 288.07 L513.33 285.53 L515.91 283.00 L518.49 280.45 L521.06 277.91 L523.64 275.35 L526.22 272.79 L528.79 270.22 L531.37 267.64 L533.95 265.05 L536.53 262.45 L539.10 259.84 L541.68 257.22 L544.26 254.59 L546.83 251.95 L549.41 249.31 L551.99 246.67" fill="none" stroke="#000" stroke-width="1.25"/>
<ellipse cx="364.89" cy="312.37" rx="2.45" ry="2.55"/>
<ellipse cx="413.17" cy="342.46" rx="2.45" ry="2.55"/>
<ellipse cx="461.46" cy="330.49" rx="2.45" ry="2.55"/>
<ellipse cx="509.74" cy="289.07" rx="2.45" ry="2.55"/>
<ellipse cx="533.88" cy="265.12" rx="2.45" ry="2.55"/>
<path d="M348.39 287.77 L350.61 291.90 L352.83 296.00 L355.05 300.05 L357.27 304.04 L359.50 307.94 L361.72 311.73 L363.94 315.38 L366.16 318.87 L368.38 322.20 L370.60 325.36 L372.82 328.36 L375.04 331.21 L377.26 333.90 L379.48 336.44 L381.70 338.83 L383.92 341.07 L386.14 343.17 L388.36 345.13 L390.58 346.96 L392.80 348.64 L395.03 350.20 L397.25 351.62 L399.47 352.90 L401.69 354.06 L403.91 355.09 L406.13 355.98 L408.35 356.75 L410.57 357.40 L412.79 357.92 L415.01 358.31 L417.23 358.59 L419.45 358.75 L421.67 358.81 L423.89 358.77 L426.11 358.63 L428.34 358.40 L430.56 358.09 L432.78 357.70 L435.00 357.24 L437.22 356.72 L439.44 356.14 L441.66 355.50 L443.88 354.79 L446.10 354.02 L448.32 353.18 L450.54 352.26 L452.76 351.28 L454.98 350.22 L457.20 349.08 L459.42 347.86 L461.64 346.55 L463.87 345.16 L466.09 343.69 L468.31 342.14 L470.53 340.51 L472.75 338.81 L474.97 337.04 L477.19 335.20 L479.41 333.30 L481.63 331.33 L483.85 329.30 L486.07 327.22 L488.29 325.09 L490.51 322.90 L492.73 320.67 L494.95 318.40 L497.18 316.08 L499.40 313.72 L501.62 311.33 L503.84 308.91 L506.06 306.46 L508.28 303.98 L510.50 301.48 L512.72 298.95 L514.94 296.41 L517.16 293.86 L519.38 291.30 L521.60 288.73 L523.82 286.15" fill="none" stroke="#000" stroke-width="1.25"/>
<polygon points="364.89,313.80 367.94,319.20 361.84,319.20"/>
<polygon points="389.03,342.60 392.08,348.00 385.98,348.00"/>
<polygon points="413.17,354.89 416.22,360.29 410.12,360.29"/>
<polygon points="437.31,353.60 440.36,359.00 434.26,359.00"/>
<polygon points="461.46,343.57 464.51,348.97 458.41,348.97"/>
<polygon points="509.74,299.23 512.79,304.63 506.69,304.63"/>
<path d="M332.70 341.81 L335.50 345.09 L338.30 348.34 L341.10 351.54 L343.91 354.68 L346.71 357.71 L349.51 360.63 L352.31 363.41 L355.11 366.03 L357.91 368.46 L360.71 370.67 L363.51 372.65 L366.32 374.37 L369.12 375.82 L371.92 377.03 L374.72 378.00 L377.52 378.74 L380.32 379.27 L383.12 379.60 L385.92 379.74 L388.73 379.71 L391.53 379.52 L394.33 379.18 L397.13 378.70 L399.93 378.10 L402.73 377.37 L405.53 376.52 L408.33 375.57 L411.14 374.51 L413.94 373.37 L416.74 372.13 L419.54 370.81 L422.34 369.40 L425.14 367.90 L427.94 366.32 L430.74 364.66 L433.55 362.91 L436.35 361.08 L439.15 359.17 L441.95 357.18 L444.75 355.11 L447.55 352.96 L450.35 350.73 L453.15 348.43 L455.96 346.05 L458.76 343.60 L461.56 341.07 L464.36 338.47 L467.16 335.80 L469.96 333.07 L472.76 330.27 L475.56 327.42 L478.37 324.51 L481.17 321.55 L483.97 318.54 L486.77 315.49 L489.57 312.41 L492.37 309.29 L495.17 306.13 L497.97 302.95 L500.78 299.75 L503.58 296.53 L506.38 293.29 L509.18 290.04 L511.98 286.78 L514.78 283.52 L517.58 280.26 L520.38 277.01 L523.19 273.76 L525.99 270.53 L528.79 267.33 L531.59 264.14 L534.39 260.99 L537.19 257.87 L539.99 254.77 L542.79 251.70 L545.60 248.65 L548.40 245.61 L551.20 242.58 L554.00 239.56" fill="none" stroke="#000" stroke-width="1.25"/>
<rect x="330.55" y="339.56" width="4.30" height="4.50"/>
<rect x="362.74" y="371.28" width="4.30" height="4.50"/>
<rect x="411.02" y="371.44" width="4.30" height="4.50"/>
<rect x="459.31" y="338.92" width="4.30" height="4.50"/>
<rect x="507.59" y="287.14" width="4.30" height="4.50"/>
<rect x="531.73" y="259.31" width="4.30" height="4.50"/>
</g>
<rect x="333.00" y="229.45" width="221.50" height="162.05" fill="none" stroke="#000" stroke-width="1.2"/>
<text transform="translate(333.30 403.10) scale(0.950 1.090)" font-size="8.00" text-anchor="middle">9.7</text>
<text transform="translate(373.57 403.10) scale(0.950 1.090)" font-size="8.00" text-anchor="middle">9.8</text>
<text transform="translate(413.85 403.10) scale(0.950 1.090)" font-size="8.00" text-anchor="middle">9.9</text>
<text transform="translate(454.12 403.10) scale(0.950 1.090)" font-size="8.00" text-anchor="middle">10.0</text>
<text transform="translate(494.39 403.10) scale(0.950 1.090)" font-size="8.00" text-anchor="middle">10.1</text>
<text transform="translate(534.66 403.10) scale(0.950 1.090)" font-size="8.00" text-anchor="middle">10.2</text>
<text transform="translate(328.30 231.25) scale(1.000 1.090)" font-size="8.00" text-anchor="end">-0.12</text>
<text transform="translate(328.30 263.66) scale(1.000 1.090)" font-size="8.00" text-anchor="end">-0.13</text>
<text transform="translate(328.30 296.07) scale(1.000 1.090)" font-size="8.00" text-anchor="end">-0.14</text>
<text transform="translate(328.30 328.48) scale(1.000 1.090)" font-size="8.00" text-anchor="end">-0.15</text>
<text transform="translate(328.30 360.89) scale(1.000 1.090)" font-size="8.00" text-anchor="end">-0.16</text>
<text transform="translate(328.30 393.30) scale(1.000 1.090)" font-size="8.00" text-anchor="end">-0.17</text>
<path d="M333.00 391.50 v3.20 M353.14 391.50 v1.80 M373.27 391.50 v3.20 M393.41 391.50 v1.80 M413.55 391.50 v3.20 M433.68 391.50 v1.80 M453.82 391.50 v3.20 M473.95 391.50 v1.80 M494.09 391.50 v3.20 M514.23 391.50 v1.80 M534.36 391.50 v3.20 M554.50 391.50 v1.80 M333.00 229.45 h-3.20 M333.00 245.66 h-1.80 M333.00 261.86 h-3.20 M333.00 278.06 h-1.80 M333.00 294.27 h-3.20 M333.00 310.47 h-1.80 M333.00 326.68 h-3.20 M333.00 342.88 h-1.80 M333.00 359.09 h-3.20 M333.00 375.29 h-1.80 M333.00 391.50 h-3.20" stroke="#000" stroke-width="1.1" fill="none"/>
<text transform="translate(444.75 417.10)" font-size="11.40" text-anchor="middle">C<tspan font-size="6.3" dy="3.5">60</tspan><tspan dy="-3.5">-C</tspan><tspan font-size="6.3" dy="3.5">60</tspan><tspan dy="-3.5"> distance (Å)</tspan></text>
<text transform="translate(300.70 318.30) rotate(-90) scale(1.090 1.000)" font-size="11.20" text-anchor="middle">Interaction energy (eV)</text>
<text transform="translate(284.90 236.40)" font-size="22.00">d<tspan font-weight="normal" font-size="20" dx="1.1" dy="0.4">)</tspan></text>
<text transform="translate(335.00 279.00) scale(1.000 0.930)" font-size="8.80">P-HH</text>
<text transform="translate(527.00 294.60) scale(1.000 0.930)" font-size="8.80">P-P</text>
<text transform="translate(335.00 378.60) scale(1.000 0.930)" font-size="8.80">H-HH</text>
</g>
</svg>
</body></html>
